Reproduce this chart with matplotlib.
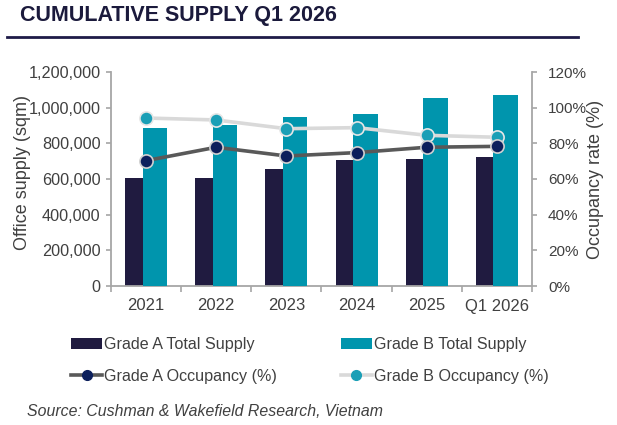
import matplotlib
matplotlib.use("Agg")
import matplotlib.pyplot as plt
import numpy as np
from matplotlib.ticker import FuncFormatter, FixedLocator
from matplotlib.lines import Line2D
from matplotlib.patches import Patch

plt.rcParams['font.family'] = ['Liberation Sans', 'DejaVu Sans']

categories = ["2021", "2022", "2023", "2024", "2025", "Q1 2026"]
grade_a_supply = [604000, 604000, 656000, 708000, 710000, 723000]
grade_b_supply = [888000, 901000, 948000, 966000, 1054000, 1071000]
grade_a_occ = [70.3, 77.8, 72.9, 74.8, 77.8, 78.3]
grade_b_occ = [94.2, 93.1, 88.2, 88.8, 84.5, 83.4]

title = "CUMULATIVE SUPPLY Q1 2026"
source = "Source: Cushman & Wakefield Research, Vietnam"

col_a = "#201b40"
col_b = "#0095ad"
col_a_line = "#595959"
col_a_mk = "#0c1f5c"
col_b_line = "#d9d9d9"
col_b_mk = "#1a9fb6"
txt = "#404040"
spine_c = "#a6a6a6"

fig = plt.figure(figsize=(6.17, 4.25), dpi=100)
ax = fig.add_axes([111/617, 1-286/425, (532-111)/617, (286-72)/425])
ax2 = ax.twinx()

x = np.arange(len(categories))
w = 0.35
ax.bar(x - 0.125, grade_a_supply, width=w, color=col_a, zorder=2)
ax.bar(x + 0.125, grade_b_supply, width=w, color=col_b, zorder=3)

ax2.plot(x, grade_b_occ, color=col_b_line, lw=2.6, marker='o', ms=9.5,
         mfc=col_b_mk, mec="#e6e6e6", mew=1.2, zorder=4)
ax2.plot(x, grade_a_occ, color=col_a_line, lw=2.6, marker='o', ms=9.5,
         mfc=col_a_mk, mec="#d0d0d0", mew=1.2, zorder=5)

ax.set_xlim(-0.5, len(categories) - 0.5)
ax.set_ylim(0, 1200000)
ax2.set_ylim(0, 120)
ax.set_yticks(np.arange(0, 1200001, 200000))
ax2.set_yticks(np.arange(0, 121, 20))
ax.yaxis.set_major_formatter(FuncFormatter(lambda v, p: f"{v:,.0f}"))
ax2.yaxis.set_major_formatter(FuncFormatter(lambda v, p: f"{v:.0f}%"))
ax.set_xticks(x)
ax.set_xticklabels(categories)
ax.xaxis.set_minor_locator(FixedLocator(np.arange(-0.5, len(categories), 1.0)))

for a in (ax, ax2):
    for s in a.spines.values():
        s.set_visible(False)
ax.spines['left'].set_visible(True)
ax.spines['bottom'].set_visible(True)
ax2.spines['right'].set_visible(True)
for s in (ax.spines['left'], ax.spines['bottom'], ax2.spines['right']):
    s.set_color(spine_c)
    s.set_linewidth(1.3)

ax.tick_params(axis='x', which='major', length=0, pad=9, labelsize=12, labelcolor=txt)
ax.tick_params(axis='x', which='minor', length=4, width=1.2, color=spine_c)
ax.tick_params(axis='y', length=3.5, width=1.2, color=spine_c, pad=4, labelsize=11.7, labelcolor=txt)
ax2.tick_params(axis='y', length=3.5, width=1.2, color=spine_c, pad=8, labelsize=11, labelcolor=txt)

ax.set_ylabel("Office supply (sqm)", fontsize=13, color=txt)
ax.yaxis.set_label_coords(-0.19, 0.53)
ax2.set_ylabel("Occupancy rate (%)", fontsize=13, color=txt)
ax2.yaxis.set_label_coords(1.131, 0.5)

fig.text(20/617, 1-15/425, title, fontsize=15.5, fontweight='bold', color="#1b1a3c",
         va='center', ha='left')
fig.add_artist(Line2D([7/617, 578/617], [1-36.7/425, 1-36.7/425], color="#1e1b48", lw=2))

handles = [
    Patch(facecolor=col_a, edgecolor='none'),
    Line2D([], [], color=col_a_line, lw=2.6, marker='o', ms=7, mfc=col_a_mk, mec=col_a_mk),
    Patch(facecolor=col_b, edgecolor='none'),
    Line2D([], [], color=col_b_line, lw=2.6, marker='o', ms=7, mfc=col_b_mk, mec=col_b_mk),
]
labels = ["Grade A Total Supply", "Grade A Occupancy (%)",
          "Grade B Total Supply", "Grade B Occupancy (%)"]
leg = fig.legend(handles, labels, ncol=2, loc='upper left',
                 bbox_to_anchor=(71/617, 1-337/425), frameon=False,
                 fontsize=11.6, handlelength=1.95, handleheight=0.65, handletextpad=0.1,
                 columnspacing=3.95, labelspacing=1.04, borderpad=0, borderaxespad=0)
for t in leg.get_texts():
    t.set_color(txt)

fig.text(27/617, 1-411/425, source, fontsize=11.4, style='italic', color=txt,
         va='center', ha='left')

fig.savefig("out.png", dpi=100)
